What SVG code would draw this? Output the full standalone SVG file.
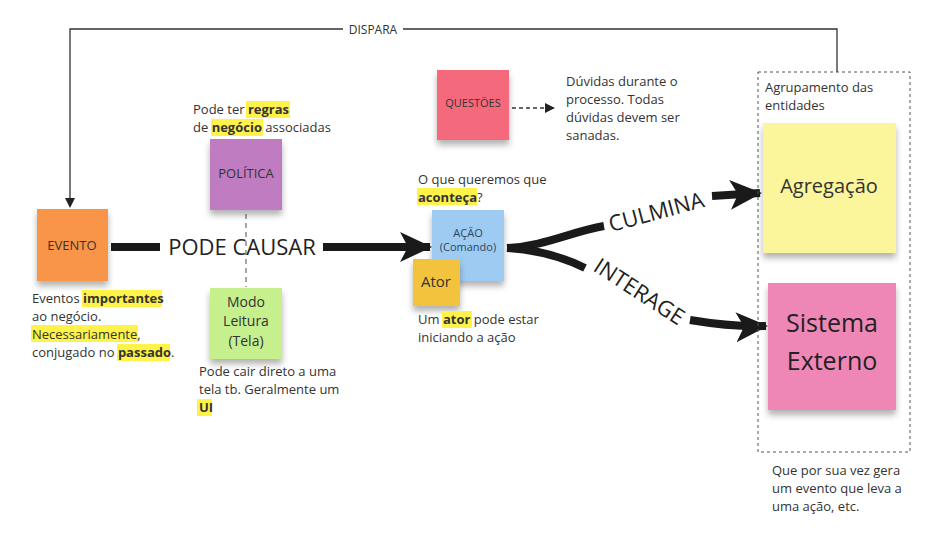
<svg xmlns="http://www.w3.org/2000/svg" width="950" height="536" viewBox="0 0 950 536">
<defs>
<style>
text{font-family:"Open Sans","Noto Sans",sans-serif;fill:#333}
.s{font-size:13px}
.n{font-size:13px;text-anchor:middle}
.hl{fill:#fff34a}
.big{font-size:22px;fill:#222}
.thick{stroke:#1a1a1a;stroke-width:8;fill:none}
</style>
<filter id="sh" x="-20%" y="-20%" width="140%" height="150%"><feDropShadow dx="0" dy="5" stdDeviation="3" flood-color="#000" flood-opacity="0.3"/></filter>
<marker id="a" markerWidth="10" markerHeight="10" refX="8" refY="5" orient="auto" markerUnits="userSpaceOnUse"><path d="M0,0 L10,5 L0,10 z" fill="#222"/></marker>
<marker id="big" markerWidth="34" markerHeight="34" refX="30" refY="17" orient="auto" markerUnits="userSpaceOnUse"><path d="M0,2 L32,17 L0,32 L8,17 z" fill="#1a1a1a"/></marker>
</defs>
<rect width="950" height="536" fill="#fff"/>
<g id="connectors">
<polyline points="837,72 837,29 70,29 70,206" fill="none" stroke="#333" stroke-width="1.3" marker-end="url(#a)"/>
<rect x="343" y="21" width="60" height="16" fill="#fff"/>
<text x="373" y="34" class="n" style="font-size:12px">DISPARA</text>
<line x1="246" y1="214" x2="246" y2="287" stroke="#777" stroke-width="1.3" stroke-dasharray="5,4"/>
<line x1="111" y1="247" x2="160" y2="247" class="thick"/>
<text x="242" y="255" class="big" text-anchor="middle">PODE CAUSAR</text>
<line x1="323" y1="247" x2="430" y2="247" class="thick" marker-end="url(#big)"/>
<line x1="512" y1="108" x2="553" y2="108" stroke="#333" stroke-width="1.3" stroke-dasharray="4,3" marker-end="url(#a)"/>
<path d="M507,248 C545,246 570,232 604,226" class="thick"/>
<text transform="translate(611,232) rotate(-15)" class="big">CULMINA</text>
<path d="M712,196 L760,193" class="thick" marker-end="url(#big)"/>
<path d="M507,248 C540,250 565,258 585,268" class="thick"/>
<text transform="translate(592,270) rotate(33)" class="big">INTERAGE</text>
<path d="M690,320 C720,325 740,327 766,326" class="thick" marker-end="url(#big)"/>
</g>
<g id="evento"><rect x="37" y="209" width="71" height="72" fill="#f99549" filter="url(#sh)"/><text x="72" y="250" class="n">EVENTO</text></g>
<g id="evento-note">
<rect x="82" y="290" width="80" height="17" class="hl"/><rect x="31" y="325" width="107" height="17" class="hl"/><rect x="117" y="344" width="53" height="17" class="hl"/>
<text class="s" x="32" y="303">Eventos <tspan font-weight="bold">importantes</tspan></text>
<text class="s" x="32" y="321">ao negócio.</text>
<text class="s" x="32" y="339">Necessariamente,</text>
<text class="s" x="32" y="357">conjugado no <tspan font-weight="bold">passado</tspan>.</text>
</g>
<g id="politica"><rect x="210" y="139" width="72" height="71" fill="#c07cc0" filter="url(#sh)"/><text x="246" y="178" class="n">POLÍTICA</text></g>
<g id="politica-note">
<rect x="246" y="101" width="44" height="17" class="hl"/><rect x="211" y="119" width="52" height="17" class="hl"/>
<text class="s" x="193" y="114">Pode ter <tspan font-weight="bold">regras</tspan></text>
<text class="s" x="193" y="132">de <tspan font-weight="bold">negócio</tspan> associadas</text>
</g>
<g id="modo"><rect x="210" y="288" width="72" height="71" fill="#c6ef8e" filter="url(#sh)"/>
<text x="246" y="307" class="n" style="font-size:14px">Modo</text><text x="246" y="326" class="n" style="font-size:14px">Leitura</text><text x="246" y="346" class="n" style="font-size:14px">(Tela)</text></g>
<g id="modo-note">
<rect x="197" y="399" width="15" height="17" class="hl"/>
<text class="s" x="199" y="376">Pode cair direto a uma</text>
<text class="s" x="199" y="394">tela tb. Geralmente um</text>
<text class="s" x="199" y="412" font-weight="bold">UI</text>
</g>
<g id="acao"><rect x="432" y="210" width="72" height="71" fill="#9ecbf1" filter="url(#sh)"/>
<text x="468" y="237" class="n" style="font-size:11px;fill:#345">AÇÃO</text><text x="468" y="251" class="n" style="font-size:11px;fill:#345">(Comando)</text></g>
<g id="acao-note">
<rect x="417" y="188" width="60" height="17" class="hl"/>
<text class="s" x="418" y="184">O que queremos que</text>
<text class="s" x="418" y="202"><tspan font-weight="bold">aconteça</tspan>?</text>
</g>
<g id="ator"><rect x="413" y="259" width="47" height="47" fill="#f4c33e" filter="url(#sh)"/><text x="436" y="287" class="n" style="font-size:15px">Ator</text></g>
<g id="ator-note">
<rect x="442" y="311" width="30" height="17" class="hl"/>
<text class="s" x="418" y="324">Um <tspan font-weight="bold">ator</tspan> pode estar</text>
<text class="s" x="418" y="342">iniciando a ação</text>
</g>
<g id="questoes"><rect x="437" y="70" width="72" height="70" fill="#f46a7c" filter="url(#sh)"/><text x="473" y="107" class="n" style="font-size:11px">QUESTÕES</text></g>
<g id="questoes-note">
<text class="s" x="566" y="86">Dúvidas durante o</text>
<text class="s" x="566" y="104">processo. Todas</text>
<text class="s" x="566" y="122">dúvidas devem ser</text>
<text class="s" x="566" y="140">sanadas.</text>
</g>
<g id="grupo">
<rect x="758" y="72" width="152" height="380" fill="none" stroke="#555" stroke-dasharray="3,3"/>
<text class="s" x="765" y="92">Agrupamento das</text>
<text class="s" x="765" y="110">entidades</text>
</g>
<g id="agregacao"><rect x="763" y="123" width="133" height="130" fill="#fbf59c" filter="url(#sh)"/><text x="829" y="193" class="n" style="font-size:20px">Agregação</text></g>
<g id="sistema"><rect x="768" y="283" width="128" height="127" fill="#ef87b6" filter="url(#sh)"/>
<text x="832" y="332" class="n" style="font-size:25px;fill:#222">Sistema</text><text x="832" y="370" class="n" style="font-size:25px;fill:#222">Externo</text></g>
<g id="grupo-note">
<text class="s" x="772" y="475">Que por sua vez gera</text>
<text class="s" x="772" y="493">um evento que leva a</text>
<text class="s" x="772" y="511">uma ação, etc.</text>
</g>
</svg>
